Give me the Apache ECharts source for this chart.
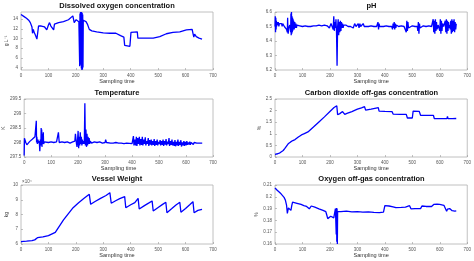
<!DOCTYPE html>
<html>
<head>
<meta charset="utf-8">
<script src="https://cdn.jsdelivr.net/npm/echarts@6/dist/echarts.min.js"></script>
<style>
  html, body { margin: 0; padding: 0; background: #fff; }
  #chart { width: 474px; height: 261px; }
</style>
</head>
<body>
<div id="chart"></div>
<script>
// sampling time ticks, shared by every panel
const timeTicks = [0, 100, 200, 300, 400, 500, 600, 700];

// Dissolved oxygen (g L-1)
const doPts = [
  [0, 15.0], [10, 14.6], [20, 14.2], [28, 13.8], [31, 13.6], [34, 13.3], [37, 12.9], [40, 12.4],
  [42, 11.1], [45, 11.9], [47, 11.4], [52, 10.8], [58, 9.9], [60, 10.1], [64, 12.6], [70, 13.0],
  [74, 12.6], [79, 12.9], [86, 12.4], [94, 11.8], [100, 12.8], [104, 13.3], [109, 12.6], [119, 11.8],
  [122, 13.0], [137, 13.3], [155, 13.5], [173, 13.9], [189, 14.7], [194, 13.3], [197, 13.0],
  [201, 13.9], [206, 13.8], [211, 13.5], [213, 13.7], [214, 4.3], [215, 15.2], [216, 4.6],
  [217, 15.5], [218, 5.0], [219, 15.4], [220, 3.8], [221, 15.5], [222, 3.5], [223, 15.3],
  [224, 3.6], [225, 15.0], [226, 4.0], [227, 13.8], [230, 13.7], [237, 13.5], [242, 13.0],
  [249, 11.9], [258, 11.6], [276, 11.4], [300, 11.2], [324, 11.1], [346, 11.1], [351, 10.8],
  [363, 10.6], [375, 10.3], [378, 8.6], [385, 8.4], [397, 8.4], [401, 11.3], [424, 11.4],
  [426, 10.1], [446, 10.1], [482, 10.1], [506, 10.4], [530, 11.0], [554, 11.3], [579, 11.4],
  [603, 11.8], [624, 11.9], [627, 11.1], [630, 10.3], [633, 10.9], [639, 10.4], [644, 10.8],
  [649, 10.1], [654, 10.3], [660, 9.9]
];

// pH
const phPts = [
  [0, 6.50], [1, 6.57], [2, 6.46], [3, 6.56], [4, 6.48], [5, 6.54], [6, 6.50], [8, 6.53], [10, 6.51],
  [12, 6.53], [14, 6.50], [16, 6.52], [18, 6.51], [20, 6.53], [22, 6.51], [24, 6.52], [26, 6.50],
  [28, 6.52], [30, 6.51], [32, 6.52], [34, 6.50], [36, 6.51], [38, 6.50], [40, 6.49], [42, 6.48],
  [44, 6.47], [45, 6.46], [46, 6.56], [47, 6.47], [48, 6.45], [50, 6.49], [52, 6.50], [54, 6.51],
  [56, 6.50], [57, 6.46], [58, 6.59], [59, 6.44], [60, 6.60], [61, 6.45], [62, 6.57], [63, 6.46],
  [64, 6.56], [65, 6.47], [66, 6.55], [67, 6.48], [68, 6.54], [70, 6.48], [72, 6.53], [74, 6.49],
  [76, 6.52], [78, 6.49], [80, 6.51], [85, 6.50], [90, 6.505], [100, 6.50], [110, 6.505], [120, 6.50],
  [130, 6.50], [140, 6.505], [150, 6.505], [160, 6.51], [170, 6.505], [180, 6.51], [190, 6.505],
  [195, 6.50], [198, 6.49], [201, 6.48], [204, 6.52], [207, 6.51], [210, 6.53], [212, 6.48],
  [214, 6.57], [216, 6.47], [218, 6.53], [220, 6.49], [222, 6.55], [224, 6.46], [226, 6.23],
  [228, 6.50], [230, 6.55], [232, 6.44], [234, 6.53], [236, 6.46], [238, 6.54], [240, 6.47],
  [242, 6.53], [244, 6.49], [246, 6.52], [248, 6.49], [250, 6.51], [254, 6.50], [258, 6.51],
  [262, 6.50], [266, 6.50], [270, 6.505], [275, 6.50], [280, 6.51], [285, 6.49], [290, 6.52],
  [295, 6.50], [300, 6.49], [303, 6.52], [306, 6.49], [309, 6.52], [312, 6.50], [315, 6.51],
  [318, 6.49], [321, 6.52], [325, 6.50], [330, 6.51], [340, 6.50], [350, 6.505], [360, 6.50],
  [370, 6.50], [373, 6.49], [375, 6.53], [377, 6.48], [379, 6.52], [381, 6.50], [385, 6.505],
  [395, 6.50], [405, 6.505], [415, 6.50], [425, 6.50], [428, 6.48], [430, 6.52], [432, 6.49],
  [434, 6.53], [436, 6.48], [438, 6.52], [440, 6.49], [442, 6.51], [445, 6.50], [450, 6.50],
  [460, 6.505], [470, 6.50], [476, 6.50], [478, 6.46], [480, 6.54], [482, 6.47], [484, 6.53],
  [486, 6.49], [490, 6.50], [500, 6.505], [510, 6.50], [518, 6.50], [520, 6.47], [522, 6.53],
  [524, 6.45], [526, 6.52], [528, 6.49], [532, 6.50], [540, 6.505], [550, 6.50], [560, 6.505],
  [570, 6.50], [574, 6.49], [576, 6.55], [578, 6.46], [580, 6.54], [582, 6.45], [584, 6.55],
  [586, 6.47], [588, 6.53], [590, 6.48], [594, 6.51], [598, 6.50], [600, 6.47], [602, 6.55],
  [604, 6.45], [606, 6.54], [608, 6.47], [610, 6.52], [614, 6.50], [618, 6.49], [620, 6.54],
  [622, 6.46], [624, 6.55], [626, 6.45], [628, 6.54], [630, 6.47], [632, 6.53], [634, 6.49],
  [636, 6.51], [638, 6.48], [640, 6.54], [642, 6.45], [644, 6.55], [646, 6.46], [648, 6.54],
  [650, 6.47], [652, 6.55], [654, 6.46], [656, 6.53], [658, 6.48], [660, 6.52]
];

// Temperature (K)
const tempPts = [
  [0, 297.55], [1, 298.15], [3, 298.12], [6, 298.0], [10, 297.92], [15, 297.98], [20, 298.03],
  [25, 298.07], [30, 298.11], [35, 298.15], [40, 298.2], [43, 298.25], [45, 298.75], [46, 298.0],
  [47, 298.2], [49, 297.95], [51, 298.1], [54, 297.98], [56, 298.05], [58, 297.7], [60, 298.1],
  [62, 297.9], [63, 298.5], [64, 298.0], [65, 298.45], [66, 297.85], [68, 298.3], [70, 297.95],
  [71, 298.35], [72, 297.95], [75, 298.02], [80, 297.98], [90, 298.0], [100, 298.02], [110, 298.0],
  [120, 298.02], [126, 298.0], [127, 298.35], [129, 298.33], [130, 298.0], [140, 298.02],
  [150, 298.0], [160, 298.02], [170, 297.98], [180, 298.02], [188, 298.05], [190, 298.3],
  [192, 298.25], [194, 297.95], [196, 297.85], [198, 298.1], [200, 298.4], [202, 297.8],
  [204, 298.2], [206, 297.9], [208, 298.35], [210, 297.95], [212, 298.2], [214, 297.9],
  [216, 298.1], [218, 297.95], [220, 298.05], [223, 297.95], [225, 299.35], [227, 297.9],
  [229, 298.45], [231, 297.85], [233, 298.3], [235, 297.9], [237, 298.2], [239, 297.95],
  [241, 298.15], [243, 297.95], [245, 298.05], [250, 297.98], [260, 298.02], [270, 298.0],
  [280, 298.02], [290, 297.98], [300, 298.0], [302, 298.1], [305, 298.0], [310, 298.02],
  [320, 297.98], [330, 297.98], [340, 298.0], [350, 297.98], [360, 297.98], [370, 297.96],
  [380, 297.98], [390, 297.97], [400, 297.96], [403, 297.95], [405, 298.22], [407, 297.9],
  [410, 298.1], [413, 297.9], [416, 298.2], [418, 297.88], [421, 298.15], [424, 297.95],
  [427, 298.2], [429, 297.9], [432, 298.12], [435, 297.92], [438, 298.2], [440, 297.9],
  [443, 298.1], [446, 297.95], [449, 298.18], [451, 297.9], [454, 298.05], [457, 297.95],
  [460, 298.15], [462, 297.88], [465, 298.08], [468, 297.93], [471, 298.1], [473, 297.9],
  [476, 298.05], [479, 297.92], [482, 298.12], [484, 297.88], [487, 298.05], [490, 297.92],
  [493, 298.1], [495, 297.9], [498, 298.02], [501, 297.95], [504, 298.08], [506, 297.9],
  [509, 298.05], [512, 297.92], [515, 298.1], [517, 297.88], [520, 298.05], [523, 297.93],
  [526, 298.12], [528, 297.9], [531, 298.03], [534, 297.95], [537, 298.15], [539, 297.88],
  [542, 298.05], [545, 297.92], [548, 298.1], [550, 297.9], [553, 298.02], [556, 297.88],
  [559, 298.08], [561, 297.87], [564, 298.02], [567, 297.9], [570, 298.1], [572, 297.88],
  [575, 298.02], [578, 297.92], [581, 298.08], [583, 297.86], [586, 298.0], [589, 297.9],
  [592, 298.05], [594, 297.88], [597, 298.02], [600, 297.9], [603, 298.05], [605, 297.92],
  [608, 298.0], [611, 297.93], [614, 298.03], [616, 297.92], [619, 298.0], [622, 297.95],
  [625, 298.02], [627, 297.93], [630, 298.0], [635, 297.95], [640, 297.98], [645, 297.95],
  [650, 297.98], [655, 297.95], [660, 297.98]
];

// Carbon dioxide off-gas (%)
const co2Pts = [
  [0, 0.11], [10, 0.14], [18, 0.18], [24, 0.22], [30, 0.28], [36, 0.37], [42, 0.47], [48, 0.57],
  [50, 0.53], [52, 0.52], [57, 0.65], [65, 0.71], [73, 0.75], [85, 0.86], [95, 0.94], [103, 0.99],
  [109, 0.97], [120, 1.08], [140, 1.29], [160, 1.51], [180, 1.73], [200, 1.96], [215, 2.13],
  [222, 2.2], [225, 2.21], [228, 1.82], [236, 1.87], [246, 1.96], [250, 1.94], [254, 1.84],
  [262, 1.88], [280, 1.96], [300, 2.06], [315, 2.12], [326, 2.17], [330, 2.02], [350, 2.06],
  [368, 2.11], [376, 2.13], [379, 1.98], [400, 1.97], [426, 1.96], [430, 1.85], [455, 1.84],
  [478, 1.84], [482, 1.68], [500, 1.68], [503, 1.98], [525, 1.97], [530, 1.8], [555, 1.79],
  [577, 1.79], [580, 1.66], [600, 1.65], [626, 1.65], [628, 1.75], [630, 1.65], [645, 1.65],
  [660, 1.66]
];

// Vessel weight (kg)
const weightPts = [
  [0, 61600], [20, 61900], [40, 62300], [50, 62800], [60, 64300], [80, 64800], [100, 65700],
  [125, 67900], [155, 76300], [190, 84600], [210, 88000], [230, 91000], [249, 93700],
  [254, 86900], [270, 88800], [290, 90900], [310, 92900], [324, 94800], [329, 87600],
  [345, 89300], [360, 90800], [378, 92100], [382, 84600], [400, 86600], [415, 88000],
  [427, 90900], [431, 83700], [450, 86000], [465, 87700], [478, 89200], [482, 82400],
  [500, 84800], [515, 86700], [528, 88300], [532, 81200], [550, 84000], [565, 86500],
  [579, 88300], [583, 81500], [600, 84000], [615, 86600], [627, 88700], [631, 81200],
  [645, 82800], [660, 83500]
];

// Oxygen off-gas (%)
const o2Pts = [
  [0, 0.2075], [8, 0.2055], [15, 0.2045], [22, 0.2025], [28, 0.201], [33, 0.1995], [38, 0.197],
  [42, 0.193], [45, 0.186], [47, 0.1885], [49, 0.1905], [52, 0.189], [56, 0.1895], [58, 0.1885],
  [61, 0.1925], [64, 0.1955], [70, 0.1955], [80, 0.1945], [95, 0.1935], [105, 0.1925],
  [115, 0.1918], [122, 0.1912], [125, 0.1898], [128, 0.191], [132, 0.1922], [145, 0.1912],
  [160, 0.1898], [175, 0.1885], [185, 0.1875], [188, 0.185], [192, 0.1815], [198, 0.1808],
  [203, 0.1835], [208, 0.183], [214, 0.1822], [218, 0.1825], [220, 0.19], [222, 0.1895],
  [223, 0.168], [224, 0.1905], [225, 0.162], [226, 0.19], [227, 0.16], [228, 0.1875],
  [232, 0.188], [240, 0.1875], [260, 0.1878], [280, 0.1872], [300, 0.1874], [320, 0.187],
  [340, 0.1872], [360, 0.1868], [380, 0.1866], [395, 0.187], [400, 0.1925], [415, 0.1922],
  [430, 0.1915], [440, 0.1908], [460, 0.191], [475, 0.1912], [482, 0.1925], [490, 0.1925],
  [495, 0.1898], [510, 0.19], [530, 0.19], [535, 0.1922], [550, 0.1918], [570, 0.1918],
  [578, 0.1935], [590, 0.1938], [600, 0.1935], [615, 0.1928], [622, 0.1925], [625, 0.1878],
  [628, 0.1895], [632, 0.1885], [636, 0.19], [640, 0.1888], [645, 0.1882], [650, 0.1872],
  [655, 0.1878], [660, 0.188]
];

const titles = [
  "Dissolved oxygen concentration", "pH", "Temperature",
  "Carbon dioxide off-gas concentration", "Vessel Weight", "Oxygen off-gas concentration"
];
const yNames = ["g L\u207B\u00B9", "", "K", "%", "kg", "%"];
const yTicks = [
  [4, 6, 8, 10, 12, 14],
  [6.2, 6.3, 6.4, 6.5, 6.6],
  [297.5, 298, 298.5, 299, 299.5],
  [0, 0.5, 1, 1.5, 2, 2.5],
  [60000, 70000, 80000, 90000, 100000],
  [0.16, 0.17, 0.18, 0.19, 0.2, 0.21]
];
const yRanges = [[3.5, 15.5], [6.2, 6.6], [297.5, 299.5], [0, 2.5], [60000, 100000], [0.16, 0.21]];
const seriesData = [doPts, phPts, tempPts, co2Pts, weightPts, o2Pts];

const FONT = "Liberation Sans, Arial, sans-serif";
const boxes = [
  { left: 21, top: 12, width: 192, height: 58 },
  { left: 275, top: 12, width: 193, height: 58 },
  { left: 21, top: 99, width: 192, height: 58 },
  { left: 275, top: 99, width: 193, height: 58 },
  { left: 21, top: 185, width: 192, height: 59 },
  { left: 275, top: 185, width: 193, height: 59 }
];

const grid = [], xAxis = [], yAxis = [], series = [], graphic = [];

boxes.forEach((b, i) => {
  grid.push({
    left: b.left, top: b.top, width: b.width, height: b.height,
    show: true, borderColor: "#b0b0b0", borderWidth: 0.8, backgroundColor: "#fff"
  });
  xAxis.push({
    type: "value", gridIndex: i, min: 0, max: 700,
    axisLine: { show: false },
    axisTick: { show: true, inside: true, length: 2, customValues: timeTicks, lineStyle: { color: "#999", width: 0.6 } },
    axisLabel: { customValues: timeTicks, fontSize: 4.5, color: "#555", margin: 3, fontFamily: FONT },
    splitLine: { show: false },
    name: "Sampling time", nameLocation: "middle", nameGap: 8.5,
    nameTextStyle: { fontSize: 5.6, color: "#333", fontFamily: FONT }
  });
  yAxis.push({
    type: "value", gridIndex: i, min: yRanges[i][0], max: yRanges[i][1],
    axisLine: { show: false },
    axisTick: { show: true, inside: true, length: 2, customValues: yTicks[i], lineStyle: { color: "#999", width: 0.6 } },
    axisLabel: {
      customValues: yTicks[i], fontSize: 4.5, color: "#555", margin: 3, fontFamily: FONT,
      formatter: i === 4 ? (v => String(v / 10000)) : null
    },
    splitLine: { show: false },
    name: yNames[i], nameLocation: "middle", nameGap: i % 2 === 0 ? 11 : 12,
    nameTextStyle: { fontSize: 5, color: "#333", fontFamily: FONT }
  });
  series.push({
    type: "line", xAxisIndex: i, yAxisIndex: i, data: seriesData[i],
    showSymbol: false, symbol: "none",
    lineStyle: { color: "#0000ff", width: 1.3 }
  });
  graphic.push({
    type: "text", x: b.left + b.width / 2, y: b.top - 6,
    style: {
      text: titles[i], fill: "#111", font: "bold 7.5px " + FONT,
      textAlign: "center", textVerticalAlign: "middle"
    }
  });
});

// exponent tag of the vessel weight axis
graphic.push({
  type: "text", x: boxes[4].left + 1, y: boxes[4].top - 3,
  style: { text: "\u00D710\u2074", fill: "#555", font: "4.5px " + FONT, textVerticalAlign: "middle" }
});

const chart = echarts.init(document.getElementById("chart"), null, { renderer: "canvas" });
chart.setOption({
  animation: false,
  backgroundColor: "#fff",
  grid, xAxis, yAxis, series, graphic
});
</script>
</body>
</html>
